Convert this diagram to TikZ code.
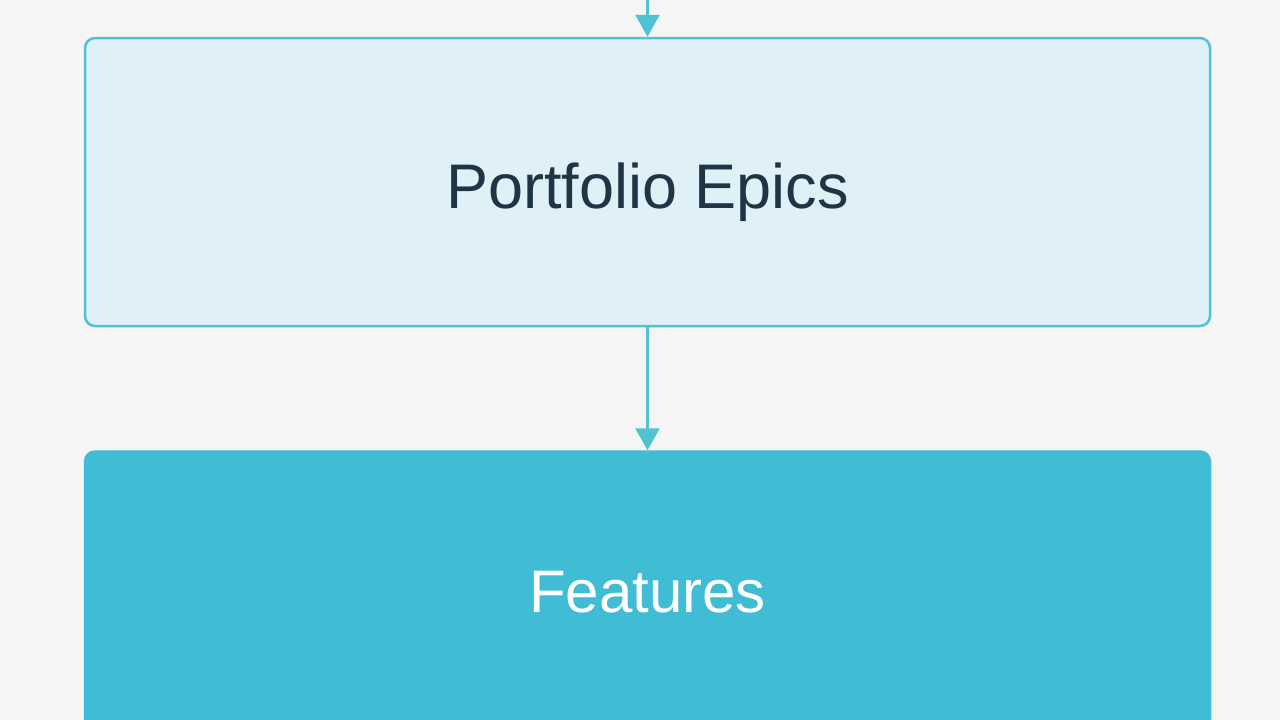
\documentclass[tikz,border=0pt]{standalone}
\usepackage{fontspec}
\setmainfont{Liberation Sans}
\usetikzlibrary{arrows.meta,positioning}
\definecolor{pagebg}{HTML}{F5F5F5}
\definecolor{edgecyan}{HTML}{4FC2D4}
\definecolor{paleblue}{HTML}{DFF1F6}
\definecolor{solidcyan}{HTML}{40BDD4}
\definecolor{inkdark}{HTML}{1F3444}

\begin{document}
\begin{tikzpicture}[x=1pt,y=-1pt,
        level/.style={rectangle, rounded corners=10pt, line width=2.5pt,
            minimum width=1125pt, minimum height=288pt, inner sep=0pt},
        flow/.style={draw=edgecyan, line width=2.5pt,
            -{Triangle[length=22pt,width=24pt]}}]
        \fill[pagebg] (0,0) rectangle (1280,720);
        \clip (0,0) rectangle (1280,720);
        % levels
        \node[level, draw=edgecyan, fill=paleblue, text=inkdark,
            font=\fontsize{63}{70}\selectfont] (epics) at (647.5,182) {\raisebox{-26pt}[0pt][0pt]{Portfolio Epics}};
        \node[level, draw=solidcyan, fill=solidcyan, text=white,
            font=\fontsize{60}{70}\selectfont, below=123pt of epics] (features) {\raisebox{-17pt}[0pt][0pt]{Features}};
        % links
        \coordinate (top) at (647.5,0);
        \draw[flow] (top) -- (epics.north);
        \draw[flow] (epics.south) -- (features.north);
    \end{tikzpicture}
\end{document}
